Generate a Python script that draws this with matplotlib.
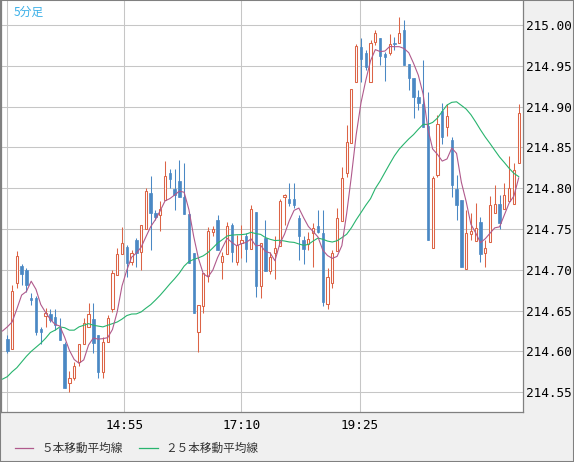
import numpy as np
import pandas as pd
import matplotlib.pyplot as plt
from matplotlib.lines import Line2D
from matplotlib.patches import Rectangle

# 5-minute bars
opens = [214.615, 214.603, 214.684, 214.705, 214.700, 214.665, 214.665, 214.627, 214.643, 214.646,
         214.642, 214.629, 214.609, 214.561, 214.567, 214.587, 214.609, 214.630, 214.640, 214.620,
         214.575, 214.612, 214.652, 214.694, 214.719, 214.728, 214.710, 214.737, 214.722, 214.750,
         214.794, 214.770, 214.767, 214.786, 214.819, 214.799, 214.809, 214.789, 214.768, 214.721,
         214.624, 214.656, 214.692, 214.746, 214.761, 214.710, 214.719, 214.755, 214.710, 214.733,
         214.741, 214.725, 214.771, 214.680, 214.739, 214.699, 214.721, 214.729, 214.789, 214.787,
         214.787, 214.763, 214.737, 214.732, 214.745, 214.754, 214.745, 214.658, 214.684, 214.723,
         214.760, 214.819, 214.855, 214.930, 214.973, 214.966, 214.930, 214.979, 214.984, 214.964,
         214.966, 214.978, 214.978, 214.994, 214.952, 214.935, 214.912, 214.903, 214.876, 214.727,
         214.816, 214.895, 214.875, 214.859, 214.799, 214.786, 214.701, 214.744, 214.735, 214.759,
         214.721, 214.734, 214.770, 214.781, 214.775, 214.784, 214.781, 214.831]
highs = [214.620, 214.681, 214.723, 214.707, 214.702, 214.672, 214.668, 214.630, 214.653, 214.652,
         214.652, 214.641, 214.612, 214.576, 214.587, 214.609, 214.641, 214.659, 214.659, 214.620,
         214.618, 214.645, 214.700, 214.727, 214.752, 214.730, 214.724, 214.739, 214.755, 214.800,
         214.815, 214.773, 214.784, 214.833, 214.824, 214.824, 214.835, 214.831, 214.768, 214.721,
         214.657, 214.696, 214.752, 214.754, 214.767, 214.722, 214.759, 214.757, 214.743, 214.755,
         214.745, 214.779, 214.771, 214.733, 214.761, 214.722, 214.741, 214.787, 214.793, 214.806,
         214.806, 214.767, 214.741, 214.746, 214.757, 214.773, 214.773, 214.702, 214.724, 214.776,
         214.826, 214.877, 214.922, 214.977, 214.984, 214.969, 214.982, 214.994, 214.984, 214.967,
         214.989, 214.985, 215.010, 215.006, 214.952, 214.935, 214.920, 214.957, 214.918, 214.815,
         214.890, 214.904, 214.903, 214.863, 214.816, 214.786, 214.773, 214.770, 214.782, 214.765,
         214.737, 214.790, 214.804, 214.792, 214.806, 214.839, 214.831, 214.903]
lows = [214.598, 214.603, 214.678, 214.681, 214.673, 214.657, 214.620, 214.609, 214.630, 214.636,
        214.626, 214.614, 214.555, 214.550, 214.565, 214.582, 214.609, 214.630, 214.598, 214.567,
        214.567, 214.612, 214.648, 214.694, 214.719, 214.691, 214.706, 214.703, 214.700, 214.750,
        214.724, 214.761, 214.748, 214.786, 214.800, 214.773, 214.789, 214.768, 214.708, 214.647,
        214.599, 214.647, 214.685, 214.741, 214.724, 214.689, 214.719, 214.710, 214.706, 214.714,
        214.710, 214.725, 214.667, 214.665, 214.699, 214.695, 214.689, 214.729, 214.755, 214.778,
        214.776, 214.712, 214.707, 214.724, 214.703, 214.745, 214.656, 214.652, 214.678, 214.723,
        214.760, 214.814, 214.855, 214.930, 214.930, 214.945, 214.930, 214.975, 214.951, 214.931,
        214.963, 214.969, 214.978, 214.951, 214.920, 214.886, 214.896, 214.875, 214.737, 214.727,
        214.814, 214.854, 214.864, 214.789, 214.761, 214.703, 214.701, 214.737, 214.735, 214.710,
        214.703, 214.734, 214.770, 214.750, 214.775, 214.784, 214.781, 214.831]
closes = [214.600, 214.674, 214.717, 214.695, 214.681, 214.663, 214.624, 214.624, 214.647, 214.638,
          214.632, 214.614, 214.555, 214.567, 214.582, 214.609, 214.635, 214.646, 214.610, 214.575,
          214.612, 214.641, 214.696, 214.719, 214.733, 214.708, 214.721, 214.721, 214.755, 214.797,
          214.770, 214.765, 214.775, 214.815, 214.811, 214.792, 214.789, 214.768, 214.708, 214.647,
          214.657, 214.696, 214.748, 214.750, 214.724, 214.717, 214.754, 214.722, 214.730, 214.737,
          214.725, 214.775, 214.680, 214.733, 214.699, 214.716, 214.727, 214.784, 214.792, 214.782,
          214.779, 214.741, 214.725, 214.738, 214.751, 214.746, 214.661, 214.691, 214.721, 214.763,
          214.812, 214.857, 214.922, 214.974, 214.958, 214.949, 214.978, 214.990, 214.962, 214.961,
          214.977, 214.977, 214.990, 214.951, 214.935, 214.912, 214.904, 214.875, 214.737, 214.812,
          214.879, 214.863, 214.888, 214.804, 214.779, 214.703, 214.745, 214.748, 214.751, 214.719,
          214.727, 214.779, 214.781, 214.757, 214.792, 214.800, 214.822, 214.892]

# averages before enough bars are on screen (from bar -1)
ma5_head = [214.625, 214.630, 214.636, 214.652, 214.669]
ma25_head = [214.566, 214.569, 214.575, 214.580, 214.587, 214.594, 214.600, 214.605, 214.610,
             214.616, 214.623, 214.626, 214.630, 214.629, 214.626, 214.626, 214.630, 214.632,
             214.634, 214.632, 214.631, 214.630, 214.632, 214.634, 214.636]

price_ticks = [214.55, 214.60, 214.65, 214.70, 214.75, 214.80, 214.85, 214.90, 214.95, 215.00]
time_labels = ["14:55", "17:10", "19:25"]

RED = "#dc6446"
BLUE = "#4a88c4"
MA5_COLOR = "#b05a8c"
MA25_COLOR = "#28b46e"
CJK = ["Noto Sans CJK JP", "DejaVu Sans"]


def draw_chart():
    n = len(closes)
    x = np.arange(n)
    o = np.array(opens)
    c = np.array(closes)
    h = np.array(highs)
    l = np.array(lows)
    up = c >= o

    fig = plt.figure(figsize=(5.74, 4.62), dpi=100, facecolor="#f0f0f0")
    ax = fig.add_axes([1 / 574, 50 / 462, 522 / 574, 412 / 462])
    ax.set_facecolor("white")

    # grid
    for p in price_ticks:
        ax.axhline(p, color="#c6c6c6", lw=0.75, zorder=1)
    time_pos = [24.48, 48.95, 73.8]
    for t in [0] + time_pos:
        ax.axvline(t, color="#c6c6c6", lw=0.75, zorder=1)

    # candles
    ax.vlines(x, l, h, colors=np.where(up, RED, BLUE), linewidth=0.75, zorder=2)
    body_bottom = np.minimum(o, c)
    body_h = np.maximum(np.abs(c - o), 0.0012)
    ax.bar(x[up], body_h[up], bottom=body_bottom[up], width=0.45,
           facecolor="white", edgecolor=RED, linewidth=0.75, zorder=3)
    ax.bar(x[~up], body_h[~up], bottom=body_bottom[~up], width=0.5,
           color=BLUE, edgecolor=BLUE, linewidth=0.5, zorder=3)

    # moving averages
    cs = pd.Series(closes)
    ma5 = np.concatenate([ma5_head, cs.rolling(5).mean().to_numpy()[4:]])
    ma25 = np.concatenate([ma25_head, cs.rolling(25).mean().to_numpy()[24:]])
    xm = np.arange(-1, n)
    ax.plot(xm, ma25, color=MA25_COLOR, lw=0.8, zorder=4)
    ax.plot(xm, ma5, color=MA5_COLOR, lw=0.8, zorder=4)

    ax.set_xlim(-1.32, 107.9)
    ax.set_ylim(214.5257, 215.0306)

    ax.yaxis.tick_right()
    ax.set_yticks(price_ticks)
    ax.set_yticklabels(["%.2f" % p for p in price_ticks])
    ax.set_xticks(time_pos)
    ax.set_xticklabels(time_labels)
    ax.tick_params(length=0, labelsize=9.2, colors="black")
    ax.tick_params(axis="y", pad=2.5)
    ax.tick_params(axis="x", pad=5)
    for lab in ax.get_xticklabels() + ax.get_yticklabels():
        lab.set_family("DejaVu Sans Mono")

    ax.spines["top"].set_visible(False)
    for s in ["left", "right", "bottom"]:
        ax.spines[s].set_color("#808080")
        ax.spines[s].set_linewidth(0.9)

    ax.text(13 / 522, 1 - 12.5 / 412, "5分足", transform=ax.transAxes,
            color="#3cb0e8", fontsize=8.5, family=CJK, va="center", ha="left")

    # legend at the bottom
    ly = 14 / 462
    fig.lines.append(Line2D([15 / 574, 33 / 574], [ly, ly], color=MA5_COLOR, lw=0.9,
                            transform=fig.transFigure))
    fig.text(41 / 574, ly, "５本移動平均線", family=CJK, fontsize=8.4,
             color="#333333", va="center", ha="left")
    fig.lines.append(Line2D([139 / 574, 158 / 574], [ly, ly], color=MA25_COLOR, lw=0.9,
                            transform=fig.transFigure))
    fig.text(165 / 574, ly, "２５本移動平均線", family=CJK, fontsize=8.4,
             color="#333333", va="center", ha="left")

    fig.patches.append(Rectangle((0, 0), 1, 1, transform=fig.transFigure, fill=False,
                                 edgecolor="#808080", lw=1.5))

    fig.savefig("out.png", dpi=100, facecolor=fig.get_facecolor())


def main():
    draw_chart()


if __name__ == "__main__":
    main()
